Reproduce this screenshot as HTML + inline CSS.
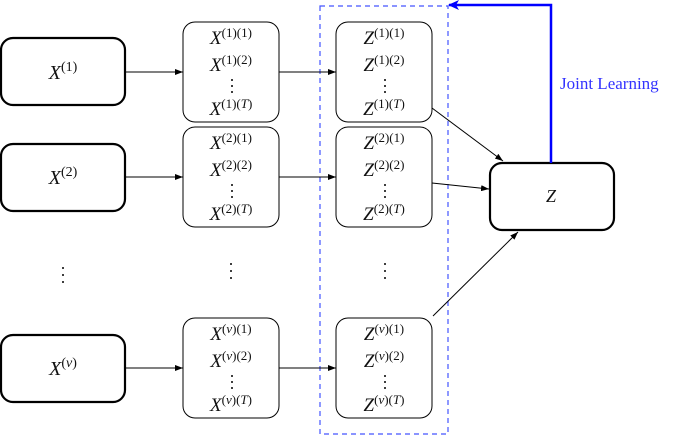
<!DOCTYPE html>
<html><head><style>html,body{margin:0;padding:0;background:#fff;width:685px;height:435px;overflow:hidden}
svg text{font-family:"Liberation Serif","DejaVu Serif",serif}</style></head>
<body>
<svg width="685" height="435" xmlns="http://www.w3.org/2000/svg">
<defs>
<marker id="a" markerWidth="8" markerHeight="6" refX="8" refY="3" orient="auto" markerUnits="userSpaceOnUse"><path d="M0,0 L8,3 L0,6 z" fill="#000"/></marker>
<marker id="b" markerWidth="12" markerHeight="10" refX="10" refY="5" orient="auto" markerUnits="userSpaceOnUse"><path d="M0,0 L11,5 L0,10 L3,5 z" fill="#00f"/></marker>
</defs>
<rect x="320" y="6" width="128" height="428" fill="none" stroke="#4455ff" stroke-width="1.2" stroke-dasharray="5,4"/>
<g fill="none" stroke="#000" stroke-width="2.2">
<rect x="1" y="38" width="124" height="67" rx="12"/>
<rect x="1" y="144" width="124" height="67" rx="12"/>
<rect x="1" y="335" width="124" height="67" rx="12"/>
<rect x="490" y="163" width="124" height="67" rx="12"/>
</g>
<g fill="none" stroke="#000" stroke-width="1">
<rect x="183" y="22" width="96" height="100" rx="12"/>
<rect x="183" y="127" width="96" height="100" rx="12"/>
<rect x="183" y="318" width="96" height="100" rx="12"/>
<rect x="336" y="22" width="96" height="100" rx="12"/>
<rect x="336" y="127" width="96" height="100" rx="12"/>
<rect x="336" y="318" width="96" height="100" rx="12"/>
</g>
<g stroke="#000" stroke-width="1" marker-end="url(#a)">
<line x1="125" y1="72" x2="183" y2="72"/>
<line x1="125" y1="177" x2="183" y2="177"/>
<line x1="125" y1="368" x2="183" y2="368"/>
<line x1="279" y1="72" x2="336" y2="72"/>
<line x1="279" y1="177" x2="336" y2="177"/>
<line x1="279" y1="368" x2="336" y2="368"/>
<line x1="432" y1="108" x2="503" y2="161"/>
<line x1="432" y1="183" x2="489" y2="189"/>
<line x1="433" y1="316" x2="518" y2="232"/>
</g>
<polyline points="551,163 551,5 449,5" fill="none" stroke="#00f" stroke-width="2.5" marker-end="url(#b)"/>
<text x="560" y="89" font-size="17" fill="#3333ff">Joint Learning</text>
<g font-size="20" text-anchor="middle" fill="#111">
<text x="63" y="79"><tspan font-style="italic">X</tspan><tspan dy="-8" font-size="14">(1)</tspan></text>
<text x="63" y="184"><tspan font-style="italic">X</tspan><tspan dy="-8" font-size="14">(2)</tspan></text>
<text x="63" y="375"><tspan font-style="italic">X</tspan><tspan dy="-8" font-size="14">(<tspan font-style="italic">ν</tspan>)</tspan></text>
<text x="551" y="202" font-size="18"><tspan font-style="italic">Z</tspan></text>
</g>
<g font-size="19" text-anchor="middle" fill="#111">
<text x="231" y="44"><tspan font-style="italic">X</tspan><tspan dy="-7" font-size="13">(1)(1)</tspan></text>
<text x="231" y="71"><tspan font-style="italic">X</tspan><tspan dy="-7" font-size="13">(1)(2)</tspan></text>
<text x="231" y="115"><tspan font-style="italic">X</tspan><tspan dy="-7" font-size="13">(1)(<tspan font-style="italic">T</tspan>)</tspan></text>
<text x="231" y="149"><tspan font-style="italic">X</tspan><tspan dy="-7" font-size="13">(2)(1)</tspan></text>
<text x="231" y="176"><tspan font-style="italic">X</tspan><tspan dy="-7" font-size="13">(2)(2)</tspan></text>
<text x="231" y="220"><tspan font-style="italic">X</tspan><tspan dy="-7" font-size="13">(2)(<tspan font-style="italic">T</tspan>)</tspan></text>
<text x="231" y="340"><tspan font-style="italic">X</tspan><tspan dy="-7" font-size="13">(<tspan font-style="italic">ν</tspan>)(1)</tspan></text>
<text x="231" y="367"><tspan font-style="italic">X</tspan><tspan dy="-7" font-size="13">(<tspan font-style="italic">ν</tspan>)(2)</tspan></text>
<text x="231" y="411"><tspan font-style="italic">X</tspan><tspan dy="-7" font-size="13">(<tspan font-style="italic">ν</tspan>)(<tspan font-style="italic">T</tspan>)</tspan></text>
<text x="384" y="44"><tspan font-style="italic">Z</tspan><tspan dy="-7" font-size="13">(1)(1)</tspan></text>
<text x="384" y="71"><tspan font-style="italic">Z</tspan><tspan dy="-7" font-size="13">(1)(2)</tspan></text>
<text x="384" y="115"><tspan font-style="italic">Z</tspan><tspan dy="-7" font-size="13">(1)(<tspan font-style="italic">T</tspan>)</tspan></text>
<text x="384" y="149"><tspan font-style="italic">Z</tspan><tspan dy="-7" font-size="13">(2)(1)</tspan></text>
<text x="384" y="176"><tspan font-style="italic">Z</tspan><tspan dy="-7" font-size="13">(2)(2)</tspan></text>
<text x="384" y="220"><tspan font-style="italic">Z</tspan><tspan dy="-7" font-size="13">(2)(<tspan font-style="italic">T</tspan>)</tspan></text>
<text x="384" y="340"><tspan font-style="italic">Z</tspan><tspan dy="-7" font-size="13">(<tspan font-style="italic">ν</tspan>)(1)</tspan></text>
<text x="384" y="367"><tspan font-style="italic">Z</tspan><tspan dy="-7" font-size="13">(<tspan font-style="italic">ν</tspan>)(2)</tspan></text>
<text x="384" y="411"><tspan font-style="italic">Z</tspan><tspan dy="-7" font-size="13">(<tspan font-style="italic">ν</tspan>)(<tspan font-style="italic">T</tspan>)</tspan></text>
</g>
<g fill="#000">
<circle cx="232" cy="80" r="1"/><circle cx="232" cy="86" r="1"/><circle cx="232" cy="92" r="1"/>
<circle cx="232" cy="185" r="1"/><circle cx="232" cy="191" r="1"/><circle cx="232" cy="197" r="1"/>
<circle cx="232" cy="376" r="1"/><circle cx="232" cy="382" r="1"/><circle cx="232" cy="388" r="1"/>
<circle cx="385" cy="80" r="1"/><circle cx="385" cy="86" r="1"/><circle cx="385" cy="92" r="1"/>
<circle cx="385" cy="185" r="1"/><circle cx="385" cy="191" r="1"/><circle cx="385" cy="197" r="1"/>
<circle cx="385" cy="376" r="1"/><circle cx="385" cy="382" r="1"/><circle cx="385" cy="388" r="1"/>
<circle cx="63" cy="268" r="1"/><circle cx="63" cy="275" r="1"/><circle cx="63" cy="282" r="1"/>
<circle cx="231" cy="264" r="1"/><circle cx="231" cy="271" r="1"/><circle cx="231" cy="278" r="1"/>
<circle cx="385" cy="264" r="1"/><circle cx="385" cy="271" r="1"/><circle cx="385" cy="278" r="1"/>
</g>
</svg>
</body></html>
